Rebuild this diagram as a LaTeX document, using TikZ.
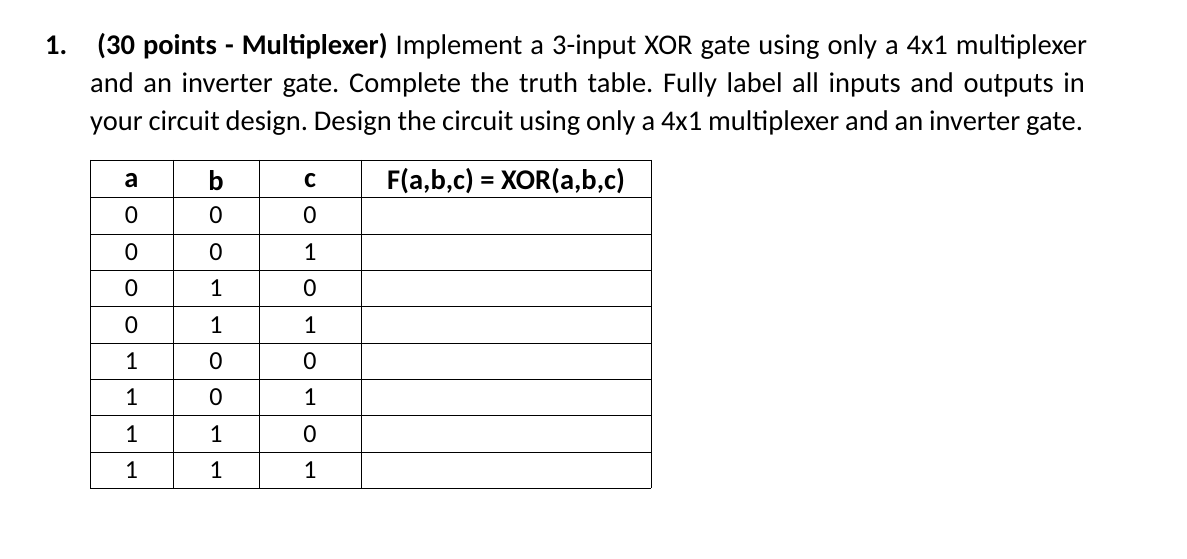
\documentclass[tikz,border=0pt]{standalone}
\usepackage{fontspec}
\setmainfont{Carlito}
\frenchspacing
\begin{document}
\begin{tikzpicture}[x=1pt,y=-1pt,
  txt/.style={anchor=base west,inner sep=0pt,font=\fontsize{28.5}{30}\selectfont},
  cell/.style={anchor=center,inner sep=0pt,font=\fontsize{26}{28}\selectfont},
  hcell/.style={cell,font=\fontsize{28.5}{30}\selectfont\bfseries}]
\useasboundingbox (0,0) rectangle (1187,559);
\node[txt] (n1) at (45,55) {\textbf{1.}};
\node[txt] (l1) at (97,55) {\makebox[990pt][s]{\textbf{(30 points - Multiplexer)} Implement a 3-input XOR gate using only a 4x1 multiplexer}};
\node[txt] (l2) at (90,93) {\makebox[995pt][s]{and an inverter gate. Complete the truth table. Fully label all inputs and outputs in}};
\node[txt] (l3) at (90,131) {\makebox[993pt][s]{your circuit design. Design the circuit using only a 4x1 multiplexer and an inverter gate.}};
% table grid
\foreach \y in {160,197,234,270,306,343,379,415,452,488} \draw[line width=0.9pt] (90,\y) -- (651,\y);
\foreach \x in {90,173,259,361,651} \draw[line width=0.9pt] (\x,160) -- (\x,488);
\node[hcell] (ha) at (131.5,181) {a};
\node[hcell] (hb) at (216,181) {b};
\node[hcell] (hc) at (310,181) {c};
\node[hcell] (hf) at (506,181) {F(a,b,c) = XOR(a,b,c)};
\foreach \a/\b/\c [count=\i from 0] in {0/0/0,0/0/1,0/1/0,0/1/1,1/0/0,1/0/1,1/1/0,1/1/1}{
  \pgfmathsetmacro\yy{215.5+36.4*\i}
  \node[cell] (a\i) at (131.5,\yy) {\a};
  \node[cell] (b\i) at (216,\yy) {\b};
  \node[cell] (c\i) at (310,\yy) {\c};
}
\end{tikzpicture}
\end{document}
